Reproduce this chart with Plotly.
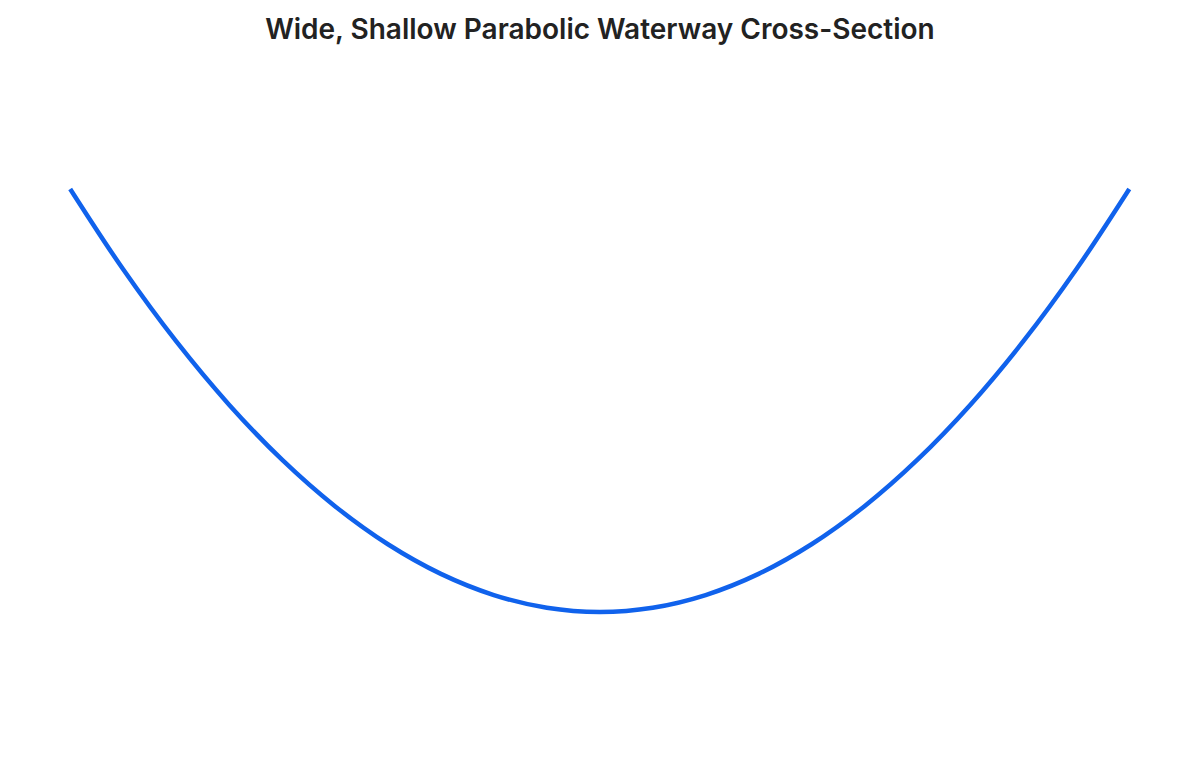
import plotly.graph_objects as go

# Querschnitt: Abstand von der Mitte (m) und Höhe über der Sohle (m)
distance_m = [-10, -9, -8, -7, -6, -5, -4, -3, -2, -1, 0, 1, 2, 3, 4, 5, 6, 7, 8, 9, 10]
elevation_m = [4.0, 3.24, 2.56, 1.96, 1.44, 1.0, 0.64, 0.36, 0.16, 0.04, 0.0,
               0.04, 0.16, 0.36, 0.64, 1.0, 1.44, 1.96, 2.56, 3.24, 4.0]

title_text = "Wide, Shallow Parabolic Waterway Cross-Section"

fig = go.Figure()
fig.add_trace(go.Scatter(
    x=distance_m,
    y=elevation_m,
    mode="lines",
    line=dict(color="#1062EC", width=4.5, shape="spline"),
    hoverinfo="x+y",
    showlegend=False,
))

fig.update_layout(
    width=1200,
    height=763,
    title=dict(text=title_text, x=0.4933, xanchor="center", y=0.9725, yanchor="middle",
               font=dict(family="Inter", size=28, color="#222222", weight=600)),
    paper_bgcolor="white",
    plot_bgcolor="white",
    # Seite hat 8px Rand, daher Ränder angepasst
    margin=dict(l=32, r=48, t=72, b=48),
    xaxis=dict(visible=False, range=[-10.57, 10.58]),
    yaxis=dict(visible=False, range=[-1.05, 5.03]),
)

fig.write_html("out.html", config={"displayModeBar": False})
